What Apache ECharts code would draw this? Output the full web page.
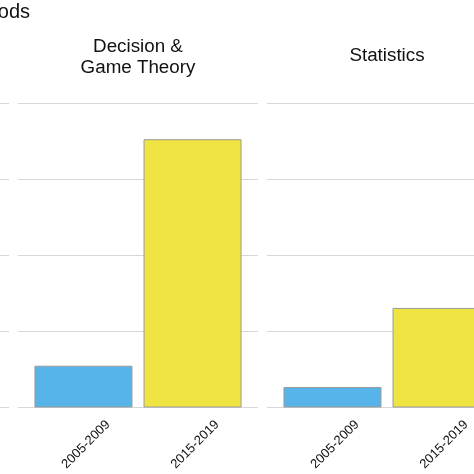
<!DOCTYPE html>
<html>
<head>
<meta charset="utf-8">
<script src="https://cdn.jsdelivr.net/npm/echarts@6/dist/echarts.min.js"></script>
<style>
  html, body { margin: 0; padding: 0; background: #fff; }
  #chart { width: 474px; height: 474px; }
</style>
</head>
<body>
<div id="chart"></div>
<script>
  // 数据
  const periods = ['2005-2009', '2015-2019']
  const panelNames = ['', 'Decision &\nGame Theory', 'Statistics']
  const decisionValues = [5.5, 35.3]
  const statisticsValues = [2.7, 13.1]
  const panelValues = [[], decisionValues, statisticsValues]
  const yTicks = [0, 10, 20, 30, 40]

  const barColors = ['#56B4E9', '#F0E442']
  const font = '"Liberation Sans", Arial, Helvetica, sans-serif'
  // 面板位置（第一个面板只露出右边一点）
  const panelLeft = [-231, 18, 267]
  const panelWidth = 240
  const labelShift = 0.225

  let chart = echarts.init(document.getElementById('chart'))

  let grids = [],
    xAxes = [],
    yAxes = [],
    series = [],
    graphics = []

  panelLeft.forEach((left, i) => {
    grids.push({
      left: left,
      width: panelWidth,
      top: 103.5,
      bottom: 66.5,
      outerBoundsMode: 'none',
      containLabel: false,
    })
    xAxes.push({
      type: 'value',
      gridIndex: i,
      min: -0.6,
      max: 1.6,
      axisLine: { show: false },
      axisTick: { show: false },
      splitLine: { show: false },
      axisLabel: {
        show: i > 0,
        customValues: periods.map((p, k) => k + labelShift),
        formatter: (v) => periods[Math.round(v - labelShift)],
        rotate: 45,
        margin: 15,
        fontSize: 13,
        fontFamily: font,
        color: '#111',
      },
    })
    yAxes.push({
      type: 'value',
      gridIndex: i,
      min: yTicks[0],
      max: yTicks[yTicks.length - 1],
      interval: yTicks[1] - yTicks[0],
      axisLine: { show: false },
      axisTick: { show: false },
      axisLabel: { show: false },
      splitLine: { lineStyle: { color: '#d6d6d6', width: 1 } },
    })
    if (panelValues[i].length) {
      series.push({
        type: 'bar',
        xAxisIndex: i,
        yAxisIndex: i,
        barWidth: 98,
        data: panelValues[i].map((v, k) => ({
          value: [k, v],
          itemStyle: { color: barColors[k] },
        })),
        itemStyle: { borderColor: '#9a9a9a', borderWidth: 1 },
      })
    }
    if (panelNames[i]) {
      let twoLines = panelNames[i].indexOf('\n') > -1
      graphics.push({
        type: 'text',
        x: left + panelWidth / 2,
        y: twoLines ? 57 : 56,
        style: {
          text: panelNames[i],
          font: '18.8px ' + font,
          fill: '#111',
          align: 'center',
          verticalAlign: 'middle',
          lineHeight: 21,
        },
      })
    }
  })

  // 被裁掉的标题
  graphics.push({
    type: 'text',
    x: 30,
    y: 22,
    style: {
      text: 'Periods',
      font: '20px ' + font,
      fill: '#111',
      align: 'right',
      verticalAlign: 'bottom',
    },
  })

  chart.setOption({
    animation: false,
    backgroundColor: '#fff',
    grid: grids,
    xAxis: xAxes,
    yAxis: yAxes,
    series: series,
    graphic: graphics,
  })
</script>
</body>
</html>
